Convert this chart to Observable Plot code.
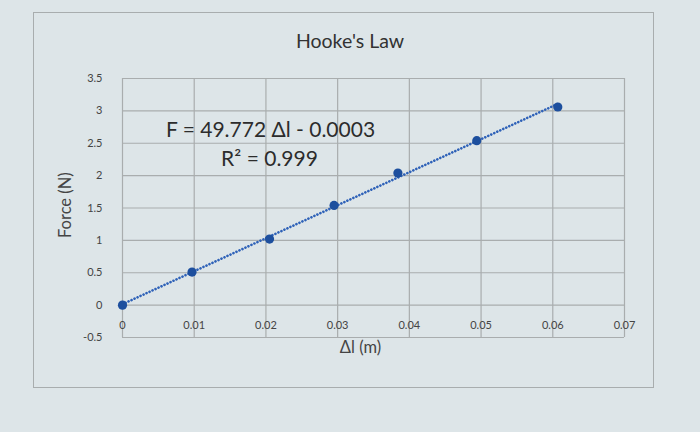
<!DOCTYPE html>
<html>
<head>
<meta charset="utf-8">
<script src="https://cdn.jsdelivr.net/npm/d3@7"></script>
<script src="https://cdn.jsdelivr.net/npm/@observablehq/plot@0.6"></script>
<style>
  html, body { margin: 0; padding: 0; background: #dde5e8; width: 700px; height: 432px; overflow: hidden; }
  #wrap { position: relative; width: 700px; height: 432px; font-family: Lato, "Open Sans", sans-serif; }
  #border { position: absolute; left: 33px; top: 12px; width: 621px; height: 376px; border: 1.5px solid #a8adae; box-sizing: border-box; }
  #title { position: absolute; left: 0; width: 700px; top: 29px; text-align: center; font-size: 19.5px; color: #333; }
  #chart { position: absolute; left: 0; top: 0; }
</style>
</head>
<body>
<div id="wrap">
  <div id="border"></div>
  <div id="title">Hooke's Law</div>
  <div id="chart"></div>
</div>
<script>
// data
const extension = [0, 0.0097, 0.0205, 0.0295, 0.0384, 0.0494, 0.0607]; // Δl (m)
const force = [0, 0.51, 1.02, 1.54, 2.04, 2.54, 3.06]; // F (N)
const xTicks = [0, 0.01, 0.02, 0.03, 0.04, 0.05, 0.06, 0.07];
const xTickLabels = ["0", "0.01", "0.02", "0.03", "0.04", "0.05", "0.06", "0.07"];
const yTicks = [-0.5, 0, 0.5, 1, 1.5, 2, 2.5, 3, 3.5];
const yTickLabels = ["-0.5", "0", "0.5", "1", "1.5", "2", "2.5", "3", "3.5"];
const equationLines = ["F = 49.772 Δl - 0.0003", "R² = 0.999"];

const points = extension.map((x, i) => ({x, y: force[i]}));
const xt = xTicks.map((v, i) => ({v, label: xTickLabels[i]}));
const yt = yTicks.map((v, i) => ({v, label: yTickLabels[i]}));

const grid = "#a9adae";
const chart = Plot.plot({
  width: 700,
  height: 432,
  marginLeft: 122,
  marginRight: 76,
  marginTop: 78,
  marginBottom: 95,
  style: {background: "transparent", fontFamily: "Lato, 'Open Sans', sans-serif"},
  x: {domain: [0, 0.07], axis: null},
  y: {domain: [-0.5, 3.5], axis: null},
  marks: [
    Plot.ruleY(yTicks, {stroke: grid, strokeWidth: 1.2}),
    Plot.ruleX(xTicks, {stroke: grid, strokeWidth: 1.2}),
    Plot.text(yt, {x: 0, y: "v", text: "label", textAnchor: "end", dx: -20, fontSize: 11, fill: "#444"}),
    Plot.text(xt, {x: "v", y: 0, text: "label", dy: 20, fontSize: 11, fill: "#444"}),
    Plot.linearRegressionY(points, {x: "x", y: "y", ci: 0, stroke: "#2f62b8", strokeWidth: 2.6, strokeDasharray: "0.1 3.2", strokeLinecap: "round"}),
    Plot.dot(points, {x: "x", y: "y", r: 4.6, fill: "#1d4f9e", stroke: "none"}),
    Plot.text([equationLines[0]], {frameAnchor: "top-left", dx: 148, dy: 44, text: d => d, textAnchor: "middle", fontSize: 21, fill: "#2c2c2c"}),
    Plot.text([equationLines[1]], {frameAnchor: "top-left", dx: 147, dy: 73, text: d => d, textAnchor: "middle", fontSize: 21, fill: "#2c2c2c"}),
    Plot.text(["Force (N)"], {frameAnchor: "left", dx: -57, dy: 30, rotate: -90, text: d => d, fontSize: 16.5, fill: "#444"}),
    Plot.text(["Δl (m)"], {frameAnchor: "bottom", dy: 15, dx: -13, text: d => d, fontSize: 16.5, fill: "#444"})
  ]
});
document.getElementById("chart").appendChild(chart);
</script>
</body>
</html>
